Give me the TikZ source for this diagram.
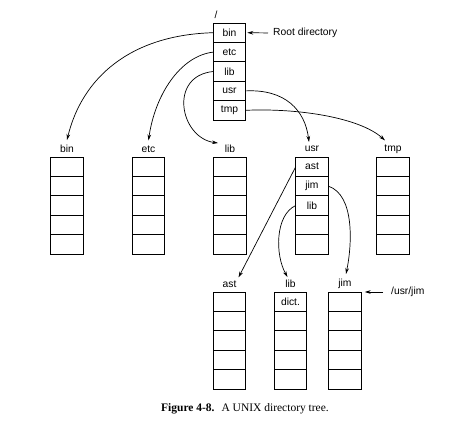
\documentclass[tikz,border=0pt]{standalone}
\usepackage{fontspec}
\setmainfont{Liberation Sans}
\newfontfamily\capfont{Liberation Serif}
\usetikzlibrary{arrows.meta}
\newcommand\dirbox[8]{%
  \foreach \t [count=\i] in {#4,#5,#6,#7,#8} {
    \node[cell] (#1\i) at (#2,{#3+9.7+(\i-1)*19.4}) {\t};
  }%
}
\begin{document}
\begin{tikzpicture}[x=1pt,y=-1pt,
  cell/.style={draw,line width=0.7pt,minimum width=32.5pt,minimum height=19.4pt,inner sep=0pt,outer sep=0pt,font=\fontsize{10.3}{12}\selectfont},
  lbl/.style={inner sep=1pt,font=\fontsize{10.3}{12}\selectfont},
  arr/.style={line width=0.7pt,-{Stealth[length=6pt,width=3.6pt]}}]
\useasboundingbox (0,0) rectangle (474,433);
% root directory
\node[lbl] (lroot) at (216,15) {/};
\dirbox{r}{229.5}{23}{bin}{etc}{lib}{usr}{tmp}
\node[lbl,anchor=west] (rootdir) at (272,33) {Root directory};
\draw[arr,shorten <=4pt,shorten >=1.5pt] (rootdir.west) -- (r1.east);
% second row
\node[lbl] (lbin) at (67,149) {bin};
\dirbox{bin}{67}{157}{}{}{}{}{}
\node[lbl] (letc) at (148.5,149) {etc};
\dirbox{etc}{148.5}{157}{}{}{}{}{}
\node[lbl] (llib) at (230,149) {lib};
\dirbox{lib}{230}{157}{}{}{}{}{}
\node[lbl] (lusr) at (312,149) {usr};
\dirbox{usr}{312}{157}{ast}{jim}{lib}{}{}
\node[lbl] (ltmp) at (393,149) {tmp};
\dirbox{tmp}{393}{157}{}{}{}{}{}
% third row
\node[lbl] (last) at (229.5,284) {ast};
\dirbox{ast}{229.5}{292}{}{}{}{}{}
\node[lbl] (lulib) at (290.5,284) {lib};
\dirbox{ulib}{290.5}{292}{dict.}{}{}{}{}
\node[lbl] (ljim) at (345,284) {jim};
\dirbox{jim}{345}{292}{}{}{}{}{}
\node[lbl,anchor=west] (usrjim) at (390,292) {/usr/jim};
\draw[arr,shorten <=7pt,shorten >=3.5pt] (usrjim.west) -- (jim1.north east |- usrjim.west);
% connectors
\draw[arr] (r1.west) .. controls (130,35) and (82,78) .. ([yshift=4pt]lbin.north);
\draw[arr] (r2.west) .. controls (180,56) and (155,95) .. ([yshift=4pt]letc.north);
\draw[arr] (r3.west) .. controls (168,76) and (180,138) .. ([xshift=-12pt,yshift=1pt]llib.north);
\draw[arr] (r4.east) .. controls (285,89) and (305,110) .. ([xshift=-3pt,yshift=3pt]lusr.north);
\draw[arr] (r5.east) .. controls (300,108) and (360,118) .. ([xshift=-8pt,yshift=3pt]ltmp.north);
\draw[arr] (usr1.west) -- ([xshift=9pt,yshift=2pt]last.north);
\draw[arr] (usr3.west) .. controls (275,215) and (275,255) .. ([xshift=-3pt,yshift=2pt]lulib.north);
\draw[arr] (usr2.east) .. controls (355,195) and (352,245) .. ([xshift=1pt,yshift=4pt]ljim.north);
% caption
\node[font=\capfont\fontsize{11.5}{13}\selectfont] (caption) at (245,409) {\textbf{Figure 4-8.}\hspace{0.6em}A UNIX directory tree.};
\end{tikzpicture}
\end{document}
